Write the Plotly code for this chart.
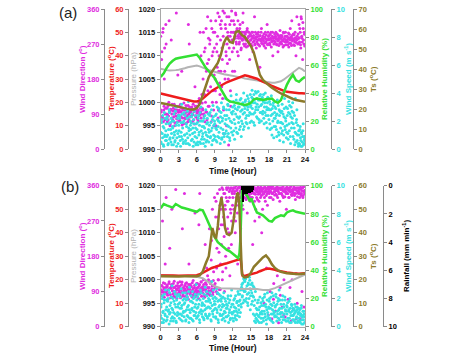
import numpy as np
import plotly.graph_objects as go

# ---------------- DATA ----------------
# scatter series: first arrays sampled every 0.1 h from 0 h, second arrays offset by 0.05 h
wd_a = [
 290, 95, 250, 80, 310, 100, 180, 75, 105, 270,
 90, 70, 110, 85, 330, 95, 65, 100, 80, 115,
 75, 105, 90, 60, 100, 85, 350, 110, 70, 95,
 88, 100, 72, 115, 95, 200, 80, 105, 65, 90,
 100, 78, 112, 85, 95, 70, 320, 90, 108, 82,
 95, 68, 105, 88, 115, 75, 100, 160, 85, 98,
 110, 80, 95, 72, 130, 88, 105, 240, 90, 118,
 100, 300, 85, 140, 260, 95, 200, 75, 340, 110,
 230, 90, 280, 160, 70, 310, 120, 250, 100, 190,
 300, 150, 60, 270, 210, 350, 100, 240, 170, 320,
 200, 330, 260, 130, 290, 40, 350, 180, 310, 240,
 340, 220, 290, 10, 260, 320, 150, 300, 355, 250,
 280, 330, 300, 200, 285, 345, 270, 310, 290, 240,
 295, 275, 320, 285, 260, 300, 280, 350, 270, 290,
 285, 270, 300, 280, 310, 265, 290, 275, 230, 295,
 280, 290, 265, 300, 275, 285, 340, 270, 288, 260,
 275, 295, 280, 268, 290, 210, 282, 300, 272, 285,
 290, 278, 265, 285, 300, 275, 282, 320, 268, 290,
 280, 272, 295, 285, 262, 278, 300, 284, 270, 288,
 275, 290, 282, 268, 296, 250, 280, 285, 272, 292,
 284, 270, 288, 278, 300, 266, 282, 290, 275, 280,
 290, 276, 284, 262, 295, 280, 272, 288, 330, 278,
 282, 268, 294, 275, 286, 240, 280, 290, 270, 284,
 320, 275, 300, 260, 335, 285, 230, 310, 270, 295]
wd_a2 = [
 100, 230, 85, 300, 70, 110, 260, 90, 320, 80,
 105, 88, 75, 120, 95, 60, 102, 280, 90, 72,
 98, 82, 115, 68, 92, 108, 78, 100, 190, 86,
 110, 74, 96, 84, 106, 62, 100, 90, 118, 80,
 92, 104, 66, 98, 86, 112, 76, 270, 94, 100,
 84, 108, 90, 72, 100, 96, 64, 110, 82, 104,
 92, 76, 100, 118, 86, 300, 96, 80, 140, 104,
 180, 90, 250, 70, 120, 310, 95, 220, 150, 285,
 110, 270, 200, 330, 85, 240, 150, 300, 60, 260,
 180, 330, 120, 250, 290, 80, 200, 340, 140, 280,
 310, 160, 230, 355, 100, 270, 200, 320, 250, 60,
 270, 300, 180, 340, 230, 290, 110, 330, 280, 200,
 300, 260, 320, 290, 350, 275, 305, 250, 330, 285,
 270, 310, 290, 255, 300, 280, 325, 285, 300, 265,
 295, 280, 262, 305, 285, 275, 300, 290, 268, 280,
 270, 300, 285, 250, 292, 278, 268, 300, 282, 295,
 288, 270, 300, 282, 265, 292, 278, 310, 284, 270,
 280, 296, 272, 288, 260, 294, 280, 270, 300, 284,
 292, 268, 282, 300, 276, 290, 240, 286, 278, 296,
 286, 300, 270, 284, 278, 292, 266, 288, 305, 276,
 272, 292, 280, 262, 298, 284, 276, 300, 268, 290,
 280, 268, 298, 286, 272, 310, 282, 266, 292, 284,
 296, 280, 266, 300, 284, 274, 340, 282, 296, 272,
 286, 310, 268, 340, 290, 275, 325, 280, 300, 265]

ws_a = [
 1.2, 0.4, 2.1, 0.8, 1.6, 0.2, 2.6, 1.0, 0.6, 1.8,
 0.9, 2.3, 0.3, 1.4, 2.8, 0.7, 1.9, 0.5, 1.1, 2.0,
 1.5, 0.3, 2.5, 1.0, 0.6, 3.0, 1.3, 0.8, 2.2, 0.4,
 1.7, 0.9, 2.4, 0.2, 1.2, 3.2, 0.7, 1.9, 0.5, 2.6,
 1.0, 2.9, 0.4, 1.6, 2.2, 0.8, 3.4, 1.3, 0.3, 2.0,
 1.4, 0.6, 2.5, 1.1, 0.2, 1.8, 2.7, 0.9, 1.5, 0.4,
 0.8, 1.9, 0.3, 2.4, 1.2, 0.5, 2.0, 3.0, 0.7, 1.6,
 1.1, 0.4, 2.2, 1.5, 0.2, 2.8, 1.0, 0.6, 1.9, 2.5,
 0.5, 1.7, 2.6, 0.9, 1.3, 0.3, 2.1, 3.1, 1.0, 0.7,
 1.8, 2.4, 0.6, 1.4, 3.0, 0.9, 2.0, 1.2, 2.7, 0.4,
 1.5, 3.3, 0.8, 2.2, 1.1, 2.9, 0.5, 1.8, 3.6, 1.3,
 2.4, 0.9, 3.1, 1.6, 2.8, 0.6, 2.0, 3.8, 1.2, 2.5,
 1.0, 3.4, 2.1, 0.7, 2.9, 1.5, 3.9, 2.3, 1.1, 3.0,
 2.2, 1.4, 3.5, 2.7, 0.9, 3.2, 1.8, 2.5, 4.0, 1.6,
 2.9, 3.5, 1.9, 2.4, 3.8, 3.0, 1.5, 3.4, 2.6, 3.9,
 3.1, 2.0, 4.2, 3.6, 2.5, 3.9, 1.7, 3.3, 2.8, 4.0,
 3.6, 2.2, 4.1, 3.0, 1.9, 3.5, 3.9, 2.6, 3.2, 3.7,
 2.7, 3.9, 1.8, 3.3, 4.0, 2.4, 3.0, 1.5, 3.7, 2.9,
 2.1, 3.4, 1.4, 2.8, 3.8, 1.0, 2.5, 3.1, 0.8, 2.2,
 3.0, 1.6, 2.4, 0.9, 3.5, 2.0, 1.2, 2.8, 0.6, 1.9,
 2.6, 1.1, 3.2, 1.8, 0.5, 2.3, 3.6, 1.4, 2.0, 0.8,
 1.7, 2.9, 0.7, 3.4, 1.3, 2.5, 0.4, 3.0, 1.9, 2.2,
 0.9, 2.6, 1.5, 0.3, 3.6, 1.1, 2.1, 0.6, 1.7, 0.2,
 1.0, 0.3, 1.6, 0.6, 1.2, 0.2, 0.9, 1.8, 0.4, 0.7]
ws_a2 = [
 0.5, 1.9, 1.1, 2.4, 0.3, 1.5, 0.9, 2.2, 1.3, 0.6,
 2.1, 1.0, 0.4, 1.8, 2.6, 0.8, 1.4, 2.2, 0.3, 1.6,
 0.8, 2.0, 1.2, 0.5, 2.7, 1.7, 0.2, 1.9, 1.1, 2.4,
 1.3, 2.2, 0.6, 1.9, 0.9, 2.5, 1.5, 0.4, 2.0, 1.0,
 2.4, 0.6, 1.8, 1.1, 2.7, 0.4, 1.5, 2.3, 1.0, 1.7,
 1.9, 2.3, 0.7, 1.5, 2.1, 0.5, 1.2, 2.4, 0.3, 1.8,
 1.4, 0.5, 2.2, 1.0, 1.7, 2.6, 0.4, 1.3, 2.0, 0.9,
 2.0, 1.6, 0.7, 2.4, 1.2, 0.5, 1.8, 2.2, 0.9, 1.4,
 1.2, 2.4, 0.8, 1.9, 2.8, 1.5, 0.6, 2.3, 1.7, 2.0,
 0.9, 1.5, 2.5, 0.5, 2.1, 1.6, 2.9, 0.8, 1.9, 2.3,
 2.6, 0.7, 2.0, 1.4, 3.0, 0.9, 2.4, 1.1, 2.1, 2.8,
 1.7, 3.2, 1.1, 2.2, 0.8, 3.4, 1.5, 2.6, 1.9, 3.0,
 2.7, 1.3, 3.1, 1.8, 2.5, 3.5, 1.2, 2.8, 3.3, 1.9,
 3.0, 2.3, 1.6, 3.6, 2.0, 2.8, 3.3, 1.4, 3.1, 2.6,
 3.4, 2.2, 3.1, 1.8, 2.8, 3.6, 2.4, 3.2, 1.9, 3.0,
 2.5, 3.7, 2.9, 3.3, 1.9, 3.5, 2.6, 4.1, 3.0, 2.3,
 3.2, 2.8, 3.5, 2.1, 3.8, 2.6, 3.1, 2.0, 3.6, 2.5,
 3.4, 2.2, 3.0, 2.6, 3.5, 1.9, 2.8, 3.3, 2.4, 3.6,
 2.8, 1.8, 3.2, 2.4, 1.5, 2.9, 2.0, 3.3, 1.6, 2.6,
 2.2, 2.9, 1.4, 2.5, 1.9, 3.1, 1.0, 2.4, 2.7, 1.5,
 1.9, 2.7, 1.3, 2.5, 1.0, 2.9, 1.6, 2.2, 3.0, 1.2,
 2.4, 1.1, 2.6, 1.8, 3.1, 0.9, 2.3, 1.5, 2.7, 3.3,
 1.8, 0.7, 2.4, 1.2, 0.5, 1.9, 2.8, 1.0, 0.4, 1.3,
 0.4, 1.4, 0.8, 0.2, 1.1, 0.5, 1.3, 0.3, 0.9, 0.6]

wd_b = [
 95, 80, 105, 270, 88, 100, 75, 110, 90, 330,
 85, 102, 70, 95, 115, 200, 82, 98, 108, 76,
 92, 110, 78, 100, 88, 350, 96, 72, 105, 85,
 100, 86, 115, 74, 95, 108, 250, 82, 98, 90,
 105, 78, 92, 112, 84, 99, 70, 160, 95, 108,
 88, 102, 76, 94, 118, 83, 100, 290, 91, 80,
 98, 110, 85, 72, 104, 340, 90, 115, 78, 96,
 86, 120, 100, 75, 210, 94, 108, 82, 130, 99,
 92, 250, 80, 115, 170, 96, 300, 88, 140, 105,
 230, 100, 320, 150, 85, 280, 120, 190, 350, 95,
 300, 210, 355, 140, 260, 340, 90, 310, 180, 330,
 350, 250, 320, 200, 345, 130, 300, 355, 270, 340,
 330, 355, 280, 345, 240, 360, 310, 350, 160, 340,
 355, 320, 345, 250, 350, 335, 358, 300, 345, 352,
 340, 355, 325, 350, 290, 345, 358, 335, 348, 320,
 352, 330, 345, 210, 355, 340, 320, 350, 300, 345,
 350, 325, 345, 355, 280, 340, 330, 352, 240, 345,
 338, 355, 60, 345, 320, 350, 150, 340, 355, 30,
 350, 330, 90, 345, 358, 20, 340, 325, 110, 352,
 345, 40, 355, 335, 130, 350, 10, 340, 320, 80,
 355, 340, 50, 348, 330, 120, 352, 25, 345, 300,
 340, 352, 70, 330, 355, 100, 345, 15, 335, 350,
 350, 45, 340, 355, 325, 135, 348, 60, 342, 355,
 345, 330, 20, 352, 340, 90, 355, 335, 50, 348]
wd_b2 = [
 88, 104, 92, 78, 112, 96, 84, 160, 100, 90,
 106, 80, 94, 110, 86, 98, 74, 102, 300, 92,
 84, 100, 116, 90, 76, 104, 94, 82, 112, 98,
 92, 80, 104, 96, 88, 114, 78, 100, 92, 340,
 96, 110, 86, 102, 76, 94, 108, 88, 100, 82,
 104, 90, 112, 80, 98, 88, 106, 76, 94, 110,
 86, 100, 92, 260, 108, 84, 98, 114, 88, 102,
 94, 108, 80, 96, 112, 90, 150, 100, 84, 120,
 100, 86, 110, 92, 220, 104, 82, 118, 96, 330,
 110, 280, 90, 200, 340, 120, 250, 95, 310, 160,
 260, 330, 120, 350, 280, 230, 340, 300, 150, 355,
 320, 280, 355, 240, 330, 350, 290, 210, 345, 310,
 350, 300, 340, 355, 270, 330, 348, 290, 355, 320,
 340, 358, 330, 348, 355, 310, 345, 340, 355, 330,
 350, 338, 356, 330, 345, 352, 340, 355, 330, 346,
 340, 355, 330, 348, 342, 356, 270, 338, 352, 330,
 344, 356, 338, 320, 350, 345, 356, 335, 348, 300,
 352, 340, 330, 356, 345, 335, 352, 310, 345, 358,
 340, 355, 345, 330, 352, 340, 358, 70, 345, 336,
 352, 338, 348, 356, 330, 345, 355, 340, 100, 350,
 340, 352, 335, 358, 30, 345, 332, 350, 340, 356,
 355, 340, 348, 330, 352, 345, 358, 338, 120, 346,
 342, 356, 335, 350, 340, 20, 355, 332, 348, 340,
 352, 340, 356, 335, 348, 355, 330, 345, 358, 340]

ws_b = [
 0.8, 1.6, 0.3, 2.2, 1.1, 0.5, 1.9, 0.9, 2.6, 0.4,
 1.4, 0.7, 2.0, 1.2, 0.2, 2.4, 1.0, 1.7, 0.6, 2.9,
 1.2, 0.4, 1.8, 2.5, 0.9, 1.4, 0.3, 2.1, 1.0, 1.6,
 2.3, 0.6, 1.3, 0.9, 2.7, 1.5, 0.4, 1.9, 1.1, 0.7,
 1.7, 2.4, 0.5, 1.2, 0.8, 2.0, 1.5, 0.3, 2.8, 1.0,
 0.6, 1.8, 1.3, 2.5, 0.4, 1.1, 2.1, 0.8, 1.6, 3.0,
 1.9, 0.7, 1.4, 2.3, 1.0, 0.3, 2.6, 1.2, 0.9, 1.7,
 1.1, 2.0, 0.5, 1.5, 2.8, 0.8, 1.3, 2.2, 0.6, 1.8,
 1.4, 0.9, 2.4, 1.7, 0.4, 3.2, 1.1, 2.0, 0.7, 1.6,
 2.1, 1.3, 0.6, 2.7, 1.0, 1.8, 0.3, 2.3, 1.5, 0.8,
 1.2, 2.0, 0.5, 1.6, 0.9, 2.4, 1.1, 0.4, 1.8, 1.3,
 0.7, 1.5, 2.2, 0.3, 1.0, 1.9, 0.6, 1.4, 2.6, 0.9,
 1.6, 0.4, 1.1, 2.0, 0.8, 1.3, 0.5, 1.8, 1.0, 2.3,
 1.2, 0.7, 1.9, 2.6, 1.4, 3.0, 2.2, 1.7, 3.4, 2.5,
 3.2, 1.8, 2.7, 3.6, 2.3, 1.5, 3.0, 2.0, 3.3, 1.2,
 2.6, 1.6, 3.1, 2.2, 0.9, 2.8, 0.4, 1.9, 0.3, 1.3,
 0.5, 1.7, 0.8, 1.2, 0.3, 2.1, 1.0, 0.6, 1.5, 0.9,
 1.8, 0.4, 1.1, 2.3, 0.7, 1.4, 0.2, 1.9, 1.0, 0.6,
 1.3, 2.0, 0.5, 1.6, 0.9, 2.4, 1.2, 0.3, 1.7, 1.0,
 0.8, 1.5, 2.1, 0.4, 1.1, 1.8, 0.6, 2.6, 1.3, 0.9,
 1.6, 0.3, 1.0, 2.2, 0.7, 1.4, 0.5, 1.9, 1.1, 0.4,
 0.9, 1.7, 0.4, 1.2, 0.6, 2.0, 1.0, 0.3, 1.5, 0.8,
 1.3, 0.5, 0.9, 1.6, 0.3, 1.1, 0.7, 1.4, 0.4, 1.0,
 0.6, 1.2, 0.3, 0.9, 1.5, 0.5, 0.8, 0.2, 1.1, 0.7]
ws_b2 = [
 1.4, 0.6, 2.0, 1.0, 0.3, 1.7, 2.3, 0.8, 1.2, 1.9,
 0.5, 1.8, 1.1, 2.6, 0.9, 1.5, 0.4, 2.1, 1.3, 0.7,
 2.0, 1.0, 0.6, 1.6, 2.3, 0.4, 1.9, 0.8, 1.4, 2.2,
 0.9, 1.7, 2.1, 0.5, 1.3, 0.8, 2.4, 1.0, 1.6, 2.0,
 1.1, 0.4, 1.9, 2.2, 1.4, 0.7, 2.5, 1.2, 0.6, 1.8,
 2.2, 1.2, 0.5, 1.7, 2.0, 0.8, 1.4, 2.3, 1.0, 0.6,
 1.3, 2.1, 0.8, 1.6, 0.5, 1.9, 1.1, 2.4, 1.5, 0.7,
 1.6, 0.6, 2.3, 1.2, 0.9, 1.8, 2.5, 0.7, 1.4, 2.0,
 0.8, 1.9, 1.3, 0.5, 2.2, 1.5, 0.9, 2.6, 1.2, 1.8,
 1.6, 0.7, 2.0, 1.2, 2.4, 0.5, 1.4, 1.9, 0.9, 2.2,
 1.8, 0.8, 1.4, 2.1, 0.6, 1.5, 2.0, 1.0, 0.7, 1.6,
 1.3, 2.0, 0.8, 1.7, 1.2, 0.5, 2.2, 1.0, 1.6, 0.6,
 1.0, 1.9, 1.4, 0.6, 2.2, 1.1, 1.7, 0.8, 2.5, 1.5,
 1.8, 2.3, 1.0, 1.6, 2.8, 2.1, 3.1, 2.6, 1.9, 3.3,
 2.5, 3.4, 2.0, 2.9, 1.7, 3.1, 2.4, 3.5, 2.7, 2.2,
 3.0, 2.4, 1.8, 2.9, 2.1, 1.5, 0.8, 2.5, 0.6, 0.9,
 1.2, 0.4, 1.9, 0.7, 1.4, 0.9, 1.7, 0.3, 1.1, 2.0,
 0.6, 1.5, 2.1, 0.9, 1.6, 0.5, 1.2, 2.4, 0.8, 1.4,
 1.8, 0.6, 1.3, 2.1, 0.4, 1.5, 0.9, 2.2, 1.1, 0.7,
 1.4, 2.3, 0.7, 1.6, 0.9, 2.0, 1.2, 0.5, 1.9, 1.0,
 0.7, 1.3, 1.9, 0.5, 1.6, 0.9, 2.1, 1.2, 0.4, 1.5,
 1.4, 0.6, 1.1, 1.8, 0.3, 1.3, 0.8, 1.6, 1.1, 0.5,
 0.8, 1.2, 0.4, 1.0, 1.4, 0.6, 1.2, 0.3, 0.9, 1.3,
 1.0, 0.4, 0.8, 1.3, 0.2, 0.7, 1.1, 0.5, 0.9, 0.3]

# panel (a) lines, every 0.5 h
p_a = [1007.2, 1007.0, 1006.9, 1006.8, 1006.8, 1006.9, 1007.0, 1007.1, 1007.3, 1007.5,
       1007.6, 1007.8, 1007.9, 1007.7, 1007.4, 1007.1, 1006.9, 1006.7, 1006.5, 1006.3,
       1006.1, 1006.0, 1005.9, 1005.8, 1005.6, 1005.5, 1005.4, 1005.3, 1005.1, 1005.0,
       1004.9, 1004.8, 1004.6, 1004.5, 1004.4, 1004.3, 1004.3, 1004.2, 1004.2, 1004.3,
       1004.5, 1004.9, 1005.4, 1005.9, 1006.5, 1007.0, 1007.4, 1007.1, 1006.6]
t_a = [23.8, 23.5, 23.2, 22.9, 22.5, 22.1, 21.7, 21.4, 21.1, 20.8,
       20.6, 20.4, 20.4, 20.7, 21.6, 22.8, 24.0, 24.9, 25.7, 26.5,
       27.3, 28.0, 28.6, 29.1, 29.6, 30.2, 30.8, 31.4, 31.6, 31.3,
       31.0, 30.6, 30.1, 29.4, 28.9, 28.3, 27.7, 27.0, 26.4, 25.8,
       25.3, 24.9, 24.5, 24.3, 24.1, 24.0, 23.9, 23.9, 23.8]
rh_a = [51.5, 54, 58, 61, 63, 64.5, 65, 65.5, 66, 66,
        66.5, 67, 67.5, 65, 61, 58, 55.5, 53, 50.5, 46.5,
        42.5, 38.5, 35.5, 34, 33.5, 33, 32.5, 32, 31.5, 32,
        33, 35.5, 36, 35.5, 35, 35.5, 36, 36, 34, 33,
        35, 41, 46, 50, 53, 49, 48, 50, 51.5]
ts_a = [23.0, 22.8, 22.5, 22.1, 21.8, 21.4, 21.0, 20.6, 20.3, 20.0,
        19.7, 19.8, 20.5, 22.5, 27.0, 32.0, 36.0, 38.5, 40.5, 43.0,
        47.0, 53.0, 56.0, 53.5, 53.0, 58.5, 59.0, 57.0, 56.0, 54.0,
        51.5, 48.0, 42.5, 37.0, 34.5, 33.0, 31.8, 30.6, 29.5, 28.6,
        27.8, 27.0, 26.3, 25.6, 25.0, 24.5, 24.2, 23.9, 23.6]

# panel (b) lines
p_b = [1001.0, 1000.9, 1000.9, 1000.8, 1000.8, 1000.7, 1000.6, 1000.3, 999.5, 998.6,
       998.2, 998.2, 998.2, 998.1, 998.0, 998.1, 998.0, 997.8, 997.8, 998.2,
       998.8, 999.4, 1000.0, 1000.6, 1001.1]
tT_b = [0, 1, 2, 3, 4, 5, 6, 6.5, 7, 7.5, 8, 8.5, 9, 9.5, 10, 10.5, 11, 11.5, 12, 12.5,
        13, 13.3, 13.6, 14, 14.5, 15, 15.5, 16, 16.5, 17, 17.5, 18, 18.5, 19, 19.5, 20,
        21, 22, 23, 24]
t_b = [21.8, 21.9, 21.8, 21.7, 21.8, 21.7, 21.9, 22.3, 23.0, 23.8, 24.5, 25.0, 25.4, 25.9,
       26.3, 26.7, 27.0, 27.3, 27.7, 28.2, 28.6, 28.9, 21.8, 21.6, 22.0, 22.3, 22.6, 23.0,
       23.6, 24.2, 24.6, 24.8, 24.6, 24.2, 23.8, 23.5, 23.1, 22.7, 22.5, 22.7]
tRH_b = [0, 0.5, 1, 1.5, 2, 2.5, 3, 3.5, 4, 4.5, 5, 5.5, 6, 6.5, 7, 7.5, 8, 8.5, 9, 9.5,
         10, 10.5, 11, 11.5, 12, 12.5, 12.9, 13.1, 13.25, 13.35, 13.5, 14, 14.5, 14.8,
         15.1, 15.4, 15.7, 16, 16.5, 17, 17.5, 18, 18.5, 19, 19.5, 20, 20.5, 21, 21.5,
         22, 22.5, 23, 23.5, 24]
rh_b = [84, 87, 86, 85, 84.5, 87, 85.5, 84.5, 84, 83.5, 83, 82, 81.5, 83, 82.5, 78, 73,
        68, 63.5, 60, 58, 56, 54.5, 53.5, 52, 50, 48.5, 52, 62, 85, 96, 95, 92, 89, 91,
        87, 84, 81, 80, 79, 77, 75, 74.5, 77, 78, 79, 78.5, 81, 82, 82.5, 81.5, 81, 80.5, 80]
tTs_b = [0, 1, 2, 3, 4, 5, 6, 6.5, 7, 7.5, 8, 8.3, 8.6, 8.9, 9.2, 9.5, 9.8, 10.1, 10.4,
         10.7, 11, 11.4, 11.8, 12.1, 12.4, 12.7, 12.9, 13.1, 13.3, 13.5, 13.8, 14, 14.5,
         15, 15.5, 16, 16.5, 17, 17.5, 18, 18.5, 19, 19.5, 20, 21, 22, 23, 24]
ts_b = [21.5, 21.4, 21.5, 21.4, 21.5, 21.4, 21.5, 21.8, 23.5, 27, 30, 36, 42, 39, 37.5,
        43, 51, 55, 50, 42, 39.5, 39, 40, 45, 52, 56.5, 57, 50, 36, 22.5, 21.2, 21, 21.3,
        23, 25.5, 27, 28.2, 29.5, 30.3, 28.8, 26.5, 25, 24, 23.4, 22.7, 22.4, 22.3, 22.6]
rain_t = [13.5, 13.6, 13.7, 13.8, 13.9, 14.0, 14.1, 14.2, 14.3, 14.4,
          14.5, 14.6, 14.7, 14.8, 14.9, 15.0, 15.1, 15.2, 15.3, 15.4]
rain = [0.3, 1.1, 0.8, 0.6, 0.55, 0.5, 0.55, 0.5, 0.5, 0.55,
        0.5, 0.45, 0.5, 0.5, 0.45, 0.4, 0.45, 0.35, 0.3, 0.15]

x_ticks = [0, 3, 6, 9, 12, 15, 18, 21, 24]

# ---------------- FIGURE ----------------
t_sc = np.round(np.arange(len(wd_a)) * 0.1, 2)
t_sc2 = np.concatenate([t_sc, t_sc + 0.05])
t_half = np.arange(len(p_a)) * 0.5
t_hour = np.arange(len(p_b)) * 1.0

W, H = 474, 354
def px(x): return x / W
def py(y): return 1 - y / H

XDOM = [px(160.7), px(305)]
DOM_A = [py(149), py(9)]
DOM_B = [py(326.7), py(185.7)]

FONT = "Liberation Sans, Arial, sans-serif"
AXC = "#8a8a8a"
MAG, RED, GRAY, GRN, CYN, OLV, BLK = "#e02de0", "#ee1c1c", "#b4b4b4", "#33e033", "#35e2e2", "#8c7a2a", "#000000"
TICK_SIZE = 7.5

fig = go.Figure()

def add_panel(sfx, base, wd, ws, tp, p, tt, t, trh, rh, tts, ts, rainfall=None):
    xa = "x" if sfx == 0 else "x2"
    ys = ["y" if base == 1 else "y%d" % base] + ["y%d" % (base + i) for i in range(1, 7)]
    fig.add_trace(go.Scatter(x=t_sc2, y=wd, mode="markers", xaxis=xa, yaxis=ys[0],
                             marker=dict(color=MAG, size=3)))
    fig.add_trace(go.Scatter(x=t_sc2, y=ws, mode="markers", xaxis=xa, yaxis=ys[1],
                             marker=dict(color=CYN, size=3)))
    fig.add_trace(go.Scatter(x=tp, y=p, mode="lines", xaxis=xa, yaxis=ys[2],
                             line=dict(color=GRAY, width=2)))
    fig.add_trace(go.Scatter(x=tt, y=t, mode="lines", xaxis=xa, yaxis=ys[3],
                             line=dict(color=RED, width=2.5)))
    fig.add_trace(go.Scatter(x=trh, y=rh, mode="lines", xaxis=xa, yaxis=ys[4],
                             line=dict(color=GRN, width=2.5)))
    fig.add_trace(go.Scatter(x=tts, y=ts, mode="lines", xaxis=xa, yaxis=ys[5],
                             line=dict(color=OLV, width=2.5)))
    if rainfall is not None:
        fig.add_trace(go.Bar(x=rain_t, y=rainfall, xaxis=xa, yaxis=ys[6], width=0.1,
                             marker=dict(color=BLK, line=dict(width=0))))

add_panel(0, 1, wd_a + wd_a2, ws_a + ws_a2, t_half, p_a, t_half, t_a, t_half, rh_a, t_half, ts_a)
add_panel(1, 7, wd_b + wd_b2, ws_b + ws_b2, t_hour, p_b, tT_b, t_b, tRH_b, rh_b, tTs_b, ts_b, rain)

def yax(rng, color, dom, side, tickvals, pos=None, anchor=None, overlay=None, labelcolor=None):
    d = dict(range=rng, domain=dom, side=side, showgrid=False, zeroline=False,
             showline=True, linecolor=AXC, linewidth=1, ticks="outside", ticklen=3,
             tickcolor=AXC, tickvals=tickvals,
             tickfont=dict(family=FONT, size=TICK_SIZE, color=labelcolor or color, weight="bold"))
    if pos is not None:
        d.update(anchor="free", position=pos)
    else:
        d.update(anchor=anchor)
    if overlay:
        d["overlaying"] = overlay
    return d

def panel_axes(base, dom, xname, ts_max, with_rain):
    b = "y" if base == 1 else "y%d" % base
    k = lambda i: "yaxis" if i == 1 else "yaxis%d" % i
    ax = {}
    ax[k(base)] = yax([0, 360], MAG, dom, "left", [0, 90, 180, 270, 360], pos=px(104))
    ax[k(base + 1)] = yax([0, 10], CYN, dom, "right", [0, 2, 4, 6, 8, 10], pos=px(331), overlay=b)
    pa = yax([990, 1020], GRAY, dom, "left", list(range(990, 1021, 5)), anchor=xname,
             overlay=b, labelcolor="#111111")
    pa["linecolor"] = "#a8a8a8"
    ax[k(base + 2)] = pa
    ax[k(base + 3)] = yax([0, 60], RED, dom, "left", [0, 10, 20, 30, 40, 50, 60], pos=px(128), overlay=b)
    ra = yax([0, 100], GRN, dom, "right", [0, 20, 40, 60, 80, 100], anchor=xname, overlay=b)
    ra["linecolor"] = "#a8a8a8"
    ax[k(base + 4)] = ra
    ax[k(base + 5)] = yax([0, ts_max], OLV, dom, "right", list(range(0, ts_max + 1, 10)),
                          pos=px(353), overlay=b)
    if with_rain:
        ax[k(base + 6)] = yax([10, 0], BLK, dom, "right", [0, 2, 4, 6, 8, 10], pos=px(383), overlay=b)
    return ax

layout_axes = {}
layout_axes.update(panel_axes(1, DOM_A, "x", 70, False))
layout_axes.update(panel_axes(7, DOM_B, "x2", 60, True))

xcommon = dict(range=[0, 24], domain=XDOM, showgrid=False, zeroline=False, showline=True,
               linecolor="#a8a8a8", mirror=True, ticks="outside", ticklen=3, tickcolor=AXC,
               tickvals=x_ticks,
               tickfont=dict(family=FONT, size=TICK_SIZE, color="#111111", weight="bold"))
layout_axes["xaxis"] = dict(xcommon, anchor="y")
layout_axes["xaxis2"] = dict(xcommon, anchor="y7")

ann = []
def vtitle(text, xp, yp, color, bold=True):
    ann.append(dict(text=text, x=px(xp), y=py(yp), xref="paper", yref="paper", showarrow=False,
                    textangle=-90, xanchor="center", yanchor="middle",
                    font=dict(family=FONT, size=8, color=color, weight="bold" if bold else "normal")))

for yc in (79, 256):
    vtitle("Wind Direction (<sup>o</sup>)", 82, yc, MAG)
    vtitle("Temperature (<sup>o</sup>C)", 111, yc, RED)
    vtitle("Pressure (hPa)", 133, yc, "#b0b0b0", bold=False)
    vtitle("Relative Humidity (%)", 324, yc, GRN)
    vtitle("Wind Speed (m s<sup>-1</sup>)", 348, yc, CYN)
    vtitle("Ts (<sup>o</sup>C)", 373, yc, OLV)
vtitle("Rainfall (mm min<sup>-1</sup>)", 406, 256, BLK)

for ytxt in (171, 348):
    ann.append(dict(text="Time (Hour)", x=px(233), y=py(ytxt), xref="paper", yref="paper",
                    showarrow=False, xanchor="center", yanchor="middle",
                    font=dict(family=FONT, size=8.5, color="#111111", weight="bold")))
for lab, xp, yp in (("(a)", 68, 12), ("(b)", 70, 186)):
    ann.append(dict(text=lab, x=px(xp), y=py(yp), xref="paper", yref="paper", showarrow=False,
                    xanchor="center", yanchor="middle",
                    font=dict(family=FONT, size=15, color="#222222")))

fig.update_layout(width=W, height=H, margin=dict(l=0, r=0, t=0, b=0, autoexpand=False),
                  paper_bgcolor="white", plot_bgcolor="white", showlegend=False,
                  annotations=ann, bargap=0, **layout_axes)

fig.write_html("out.html")
